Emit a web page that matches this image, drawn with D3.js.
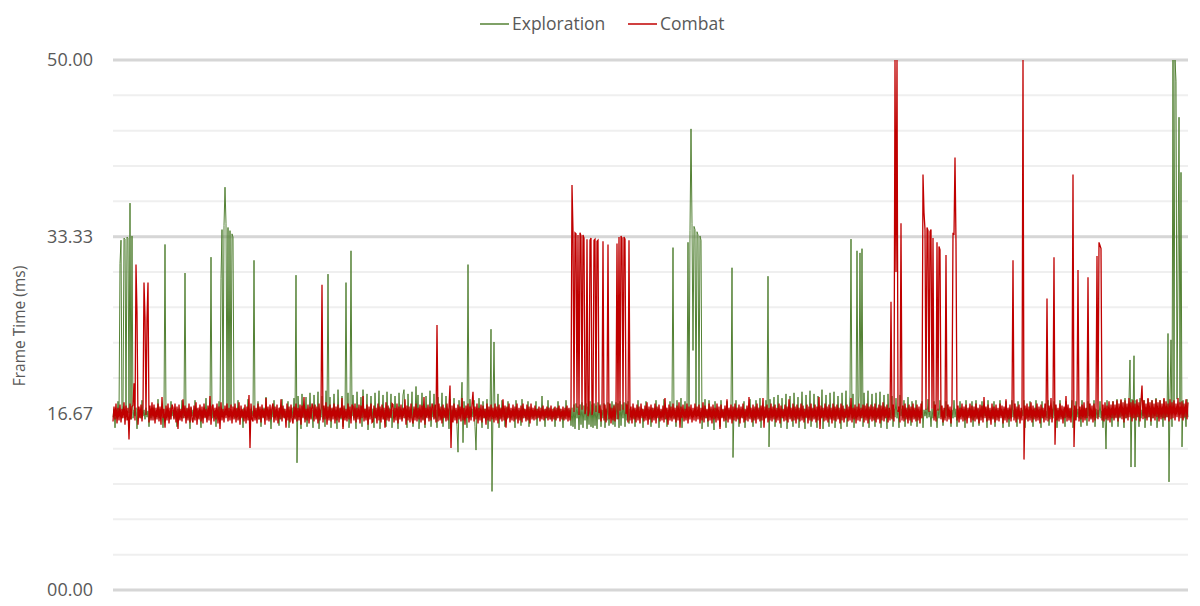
<!DOCTYPE html>
<html><head><meta charset="utf-8">
<script src="https://cdn.jsdelivr.net/npm/d3@7"></script>
<style>
html,body{margin:0;padding:0;background:#fff;}
svg{display:block;font-family:"Open Sans",sans-serif;}
</style></head>
<body>
<svg id="chart" width="1200" height="606"></svg>
<script>
const seriesNames = ["Exploration", "Combat"];
const seriesColors = ["#548235", "#c00000"];
const yTickValues = [0, 16.67, 33.33, 50];
const yTickLabels = ["00.00", "16.67", "33.33", "50.00"];
const yAxisTitle = "Frame Time (ms)";

const exploration = [
16.3,17.1,15.3,17.0,16.2,17.8,16.4,30.8,33.0,16.2,17.4,33.2,33.1,16.4,33.3,33.2,16.7,36.5,16.1,33.4,
16.2,17.0,16.4,17.2,15.2,17.1,16.3,16.9,16.2,17.9,16.4,17.0,16.1,17.2,16.3,16.9,15.4,17.1,16.2,17.0,
16.4,17.2,16.1,16.9,16.3,18.0,16.2,17.1,16.4,16.9,15.3,17.0,32.6,16.2,17.1,16.3,16.9,16.1,17.8,16.4,
17.0,16.2,17.2,16.3,15.4,17.1,16.1,16.9,16.4,17.9,16.2,17.0,29.9,16.3,17.1,16.2,16.9,15.2,17.2,16.4,
17.0,16.1,17.9,16.3,17.1,16.2,16.9,16.4,15.3,17.0,16.2,17.2,16.3,18.1,16.1,17.0,16.4,16.9,31.4,16.2,
17.1,16.3,16.9,15.4,17.0,16.2,17.8,16.4,29.4,34.0,16.5,34.4,38.0,34.6,17.0,34.2,16.8,33.9,17.2,33.6,
33.3,16.6,16.2,17.1,16.4,17.9,16.1,16.9,16.3,17.0,15.3,17.2,16.2,16.9,16.4,18.0,16.3,17.1,16.2,16.9,
16.4,31.1,16.2,17.0,16.3,17.8,16.1,17.1,15.4,16.9,16.3,17.2,16.2,18.2,16.4,17.0,16.1,16.9,15.2,17.1,
16.3,17.9,16.2,17.0,16.4,16.9,15.5,17.2,16.1,18.0,16.3,17.1,16.2,16.9,16.4,17.8,15.3,17.0,16.2,17.2,
16.3,18.1,16.2,29.7,12.0,18.3,16.4,17.1,15.2,18.5,16.3,17.0,16.1,18.2,15.4,17.1,16.3,18.6,16.2,17.0,
15.3,18.4,16.4,17.1,16.2,18.7,15.2,17.0,16.3,18.3,16.1,17.2,15.4,18.8,16.3,29.8,16.2,18.2,15.3,17.1,
16.4,18.5,16.2,17.0,15.2,18.9,16.3,17.1,16.1,18.3,15.4,17.2,16.3,29.0,16.2,18.6,15.3,17.0,32.0,16.4,
18.4,16.2,17.1,15.2,18.7,16.3,17.0,16.1,18.2,15.4,18.9,16.3,17.1,16.2,18.5,15.1,17.0,16.4,18.3,16.2,
17.1,15.3,18.6,16.2,17.0,16.4,18.8,15.2,17.1,16.3,18.4,16.1,17.0,15.4,18.7,16.2,17.2,16.3,18.5,15.3,
17.0,16.2,18.3,16.4,17.1,15.2,18.6,16.3,17.0,16.1,18.4,18.9,16.2,17.1,15.3,18.5,16.4,17.0,16.2,18.7,
15.4,17.1,16.3,19.2,16.2,18.4,15.2,17.0,16.3,18.6,16.1,17.1,15.3,18.3,16.4,17.0,16.2,18.8,15.4,17.1,
16.3,18.5,16.2,17.0,15.3,18.2,16.4,17.1,16.1,18.6,15.4,17.0,16.3,18.3,16.2,17.1,15.2,18.0,16.4,17.0,
16.2,18.1,16.3,17.0,15.4,13.0,17.9,16.2,17.1,19.6,13.9,17.8,16.3,17.0,15.3,30.7,16.2,18.0,16.4,17.1,
16.3,17.9,15.4,13.2,17.1,16.2,18.1,16.4,17.0,15.3,17.8,16.2,17.1,16.3,18.0,15.2,17.0,16.4,24.6,9.3,
17.1,23.4,16.2,17.0,16.4,18.5,15.3,17.1,16.2,17.9,16.3,17.0,15.4,17.2,16.1,17.8,16.3,17.0,16.2,16.9,
16.4,17.1,15.3,17.9,16.2,17.0,16.3,16.9,15.5,18.0,16.2,17.1,16.4,17.0,16.1,17.8,15.4,17.1,16.3,16.9,
16.2,17.0,16.4,17.8,15.5,17.1,16.3,16.9,16.2,18.3,16.4,17.0,15.4,17.1,16.2,17.9,16.3,17.0,16.1,16.9,
16.3,17.2,15.4,17.0,16.2,17.8,16.4,17.1,16.3,16.9,15.3,17.0,16.2,17.9,16.4,17.1,16.3,17.0,15.5,17.2,
15.4,17.5,15.2,17.6,16.2,17.3,15.1,17.5,15.6,17.7,15.3,17.4,16.0,17.6,15.2,17.3,15.6,17.8,15.4,17.5,
15.3,17.6,15.5,17.4,15.2,17.7,16.1,17.5,15.4,17.0,16.2,17.6,15.3,17.1,16.0,17.7,15.5,17.2,16.2,17.8,
15.6,17.5,15.4,17.7,16.1,17.6,15.3,17.8,15.5,17.5,16.2,17.7,15.4,17.6,16.0,17.8,15.7,17.1,16.3,17.0,
16.2,17.1,15.4,17.0,16.3,17.9,16.2,16.9,16.4,17.1,15.3,17.0,16.2,17.8,16.4,17.1,16.1,16.9,15.4,17.2,
16.3,17.0,16.2,17.9,16.4,17.1,15.3,16.9,16.2,17.0,16.3,18.0,16.1,17.1,15.4,17.0,16.3,17.8,16.2,17.1,
32.3,16.2,17.0,15.4,17.9,16.3,17.1,16.2,18.1,15.3,17.0,16.4,17.8,16.2,17.1,32.8,16.5,33.9,43.5,34.6,
22.6,34.3,34.0,17.0,33.8,33.5,16.9,33.4,33.0,15.2,17.1,16.3,18.0,16.2,17.0,15.4,17.9,16.3,17.1,16.2,
17.0,15.1,17.8,16.3,17.1,16.2,16.9,15.4,17.9,16.3,17.0,16.2,17.1,15.3,17.8,16.4,17.0,16.2,17.1,30.4,
12.5,17.1,16.3,17.9,16.2,17.0,15.4,17.1,16.3,16.9,16.2,17.8,15.3,17.0,16.4,17.1,16.2,18.0,16.3,17.0,
15.4,17.1,16.2,17.9,16.3,17.0,16.2,18.1,15.3,17.1,16.4,17.0,16.2,17.9,16.3,29.6,13.5,18.0,16.2,17.1,
16.3,18.2,15.4,17.0,16.2,18.4,16.3,17.1,15.3,18.1,16.2,17.0,16.4,18.5,15.2,17.1,16.3,18.3,16.2,17.0,
15.4,18.6,16.3,17.1,16.2,18.2,15.3,17.0,16.4,18.7,16.2,17.1,15.2,18.4,16.3,17.0,16.2,18.8,15.4,17.1,
16.3,18.5,16.2,17.0,15.3,18.3,16.4,17.1,16.2,18.9,15.2,17.0,16.3,18.4,16.2,17.1,15.4,18.6,16.3,17.0,
16.2,18.7,15.3,17.1,16.4,18.3,16.2,17.0,15.2,18.6,16.3,17.1,16.2,18.8,15.4,17.0,16.3,18.4,33.1,16.2,
18.5,15.3,17.1,16.2,32.0,16.4,18.3,31.8,16.2,32.2,15.4,18.6,16.3,17.0,16.2,18.8,15.3,17.1,16.4,18.5,
16.2,17.0,15.4,18.6,16.3,17.1,16.2,18.7,15.3,17.0,16.4,18.4,16.2,17.1,15.2,18.5,16.3,17.0,16.2,18.3,
15.4,17.1,16.3,18.1,16.2,17.0,15.3,18.4,16.4,17.1,16.2,17.9,15.4,17.0,16.3,18.2,16.2,17.1,15.5,17.8,
16.3,17.0,16.2,17.9,15.4,17.1,16.3,16.9,16.2,17.8,15.3,17.0,16.4,17.1,16.2,18.0,16.3,16.9,15.4,17.1,
16.2,17.8,16.4,17.0,15.3,17.1,16.2,17.9,16.3,16.9,15.5,17.0,16.2,17.8,16.4,17.1,16.3,16.9,15.4,17.0,
16.2,17.9,16.3,17.1,15.4,17.0,16.2,17.8,16.4,16.9,16.3,17.1,15.3,17.9,16.2,17.0,16.4,17.1,16.2,17.8,
15.4,17.0,16.3,17.9,16.2,17.1,15.5,16.9,16.3,17.8,16.2,17.0,16.4,17.1,15.3,17.9,16.2,17.0,16.3,16.9,
16.2,17.8,15.4,17.1,16.3,17.0,16.2,17.9,16.4,16.9,15.3,17.1,16.2,17.8,16.3,17.0,15.4,17.1,16.2,17.9,
16.3,17.0,16.2,17.1,15.4,17.8,16.3,16.9,16.2,17.0,16.4,17.9,15.3,17.1,16.2,17.0,16.3,17.8,16.2,16.9,
15.4,17.1,16.3,17.9,16.2,17.0,16.4,17.1,15.3,17.8,16.2,17.0,16.3,16.9,16.2,17.9,15.5,17.1,16.3,17.0,
16.2,17.8,16.4,17.1,15.3,17.0,16.2,17.9,16.3,16.9,16.2,17.1,15.4,17.8,16.3,17.0,16.2,17.1,16.4,17.9,
15.3,17.0,16.2,17.8,16.3,17.1,16.2,16.9,15.4,17.9,16.3,17.0,16.2,17.1,15.5,17.8,16.4,17.0,16.2,16.9,
16.3,17.9,15.4,17.1,16.2,17.0,16.3,17.8,16.2,16.9,15.3,17.1,16.4,13.3,17.9,16.2,17.0,16.3,17.1,15.4,
17.8,16.2,17.0,16.3,18.0,15.4,17.1,16.2,17.9,16.4,17.0,15.3,18.1,16.2,17.1,16.3,17.9,21.7,11.6,18.0,
16.2,22.1,11.6,17.9,16.3,17.1,15.4,18.1,16.2,17.0,16.4,17.9,15.3,17.1,16.2,18.0,16.3,17.1,15.5,17.9,
16.2,17.1,16.4,18.1,15.3,17.0,16.2,17.9,16.3,17.1,15.4,18.0,16.2,17.1,16.3,24.2,10.2,17.9,23.6,15.4,
50,17.0,50,48.0,18.0,30.0,44.6,17.5,39.4,13.5,17.9,16.2,17.1,15.4,18.0,16.3
];

const combat = [
15.9,17.3,16.1,17.6,15.7,17.2,16.0,17.5,15.8,17.1,16.2,17.7,15.6,17.4,16.0,17.2,14.2,17.6,16.1,17.3,
17.4,19.5,16.0,30.7,26.1,15.6,17.3,16.2,17.5,15.9,17.2,29.0,25.7,16.5,25.6,29.0,15.8,17.4,16.0,17.7,
16.0,17.5,15.7,17.2,16.1,17.6,15.9,17.3,15.6,18.2,16.2,17.1,15.3,17.4,16.0,17.6,15.7,17.2,16.1,17.5,
17.2,16.1,17.6,15.8,17.3,15.2,17.5,16.0,17.1,15.9,18.0,16.2,17.4,15.7,17.2,16.0,17.6,15.8,17.3,16.1,
15.8,17.4,16.0,17.7,15.6,17.2,16.1,17.5,15.9,17.3,15.7,17.6,16.2,17.1,15.8,17.4,16.0,18.3,15.6,17.3,
17.5,15.9,17.2,16.1,17.6,15.7,17.3,15.2,17.7,16.0,17.1,15.8,17.4,16.2,17.6,15.9,17.2,16.0,17.5,15.7,
17.3,16.1,17.6,15.8,17.2,16.0,17.7,15.6,17.4,16.2,17.1,15.9,17.5,15.7,17.3,16.0,18.4,13.4,17.6,16.1,
15.9,17.4,16.0,17.2,15.7,17.6,16.1,17.3,15.8,17.5,16.2,17.1,15.6,18.1,16.0,17.3,15.9,17.5,16.1,17.2,
17.6,15.8,17.3,16.0,17.5,15.7,17.2,16.1,18.0,15.9,17.4,16.2,17.1,15.3,17.6,16.0,17.3,15.8,17.5,16.1,
15.7,17.3,16.1,17.6,15.9,17.2,16.0,17.5,15.6,17.4,16.2,18.2,15.8,17.1,16.0,17.5,15.7,17.3,16.1,17.6,
17.2,15.9,17.5,16.1,17.3,15.7,17.6,16.0,17.2,28.8,15.8,17.4,16.1,17.7,15.6,17.3,16.0,17.5,15.9,17.2,
16.1,17.6,15.7,17.3,16.0,17.5,15.8,17.2,16.2,18.1,15.2,17.4,16.0,17.1,15.9,17.6,16.1,17.3,15.7,17.5,
17.3,16.0,17.6,15.8,17.2,16.1,17.5,15.7,17.4,16.2,18.3,15.9,17.1,16.0,17.5,15.6,17.3,16.1,17.6,15.8,
15.9,17.4,16.2,17.2,15.7,17.6,16.0,17.3,15.8,17.5,16.1,17.2,15.3,17.7,16.0,17.4,15.9,17.1,16.2,17.6,
17.5,15.8,17.2,16.0,17.6,15.7,17.3,16.1,17.5,15.9,17.2,16.2,18.0,15.6,17.4,16.0,17.3,15.8,17.6,16.1,
15.7,17.3,16.0,17.6,15.9,17.2,16.1,17.5,15.8,17.4,16.0,18.2,15.6,17.2,16.2,17.5,15.9,17.3,16.0,17.6,
17.2,16.1,17.5,15.8,25.0,15.9,17.6,16.0,17.3,15.7,17.5,16.2,17.2,15.9,17.6,16.0,17.3,19.3,13.4,17.4,
15.8,17.6,16.0,17.2,15.7,17.5,16.1,17.3,15.9,18.1,16.0,17.2,15.6,17.4,16.2,17.6,15.8,17.3,16.0,17.5,
18.7,15.9,17.3,16.1,17.6,15.7,17.2,16.0,17.5,15.8,17.4,16.2,17.1,15.6,17.6,16.0,17.3,15.9,17.5,16.1,
17.2,15.8,17.6,16.0,17.3,15.7,17.5,16.1,17.2,15.9,18.0,16.0,17.4,15.3,17.3,16.2,17.6,15.8,17.2,16.0,
17.5,15.9,17.3,16.1,17.6,15.7,17.2,16.0,17.4,15.8,17.6,16.2,17.1,15.9,17.5,16.0,17.3,15.7,17.6,16.1,
17.2,16.0,17.4,16.1,17.1,16.2,17.3,15.9,17.2,16.1,17.4,16.0,17.1,16.2,17.3,16.0,17.2,16.1,17.4,15.9,
17.1,16.1,17.3,16.0,17.2,16.2,17.4,15.9,17.1,16.1,17.3,16.0,17.2,16.1,17.4,15.9,17.2,16.0,17.3,38.2,
33.8,16.8,33.7,33.6,17.2,33.5,16.5,33.7,33.4,17.0,33.5,33.2,16.6,17.1,33.1,16.4,16.9,33.0,33.2,16.5,
17.0,33.0,33.1,16.8,32.9,33.0,16.7,17.4,15.9,17.2,32.9,16.0,17.5,15.8,17.3,32.6,16.1,17.6,15.7,17.2,
16.0,17.4,15.9,17.3,32.7,16.1,33.3,16.9,33.4,33.2,17.0,33.3,33.1,16.6,17.5,15.8,33.0,16.0,17.3,15.7,
17.6,16.1,17.2,15.8,17.5,16.0,17.3,15.7,17.6,16.2,17.1,15.9,17.4,16.0,17.7,15.6,17.3,16.1,17.5,15.8,
17.2,16.0,17.6,15.7,17.3,16.2,17.5,15.9,17.1,16.0,17.4,15.8,18.1,16.1,17.2,15.6,17.5,16.0,17.3,15.9,
17.6,16.1,17.2,15.8,17.4,16.0,17.7,15.3,17.3,16.2,17.5,15.9,17.1,16.0,17.6,15.7,17.3,16.1,17.5,15.8,
17.2,16.0,17.6,15.9,17.3,16.1,17.5,15.7,17.2,16.0,17.7,15.8,17.4,16.2,17.1,15.9,17.6,16.0,17.3,15.7,
17.5,16.1,17.2,15.8,17.6,16.0,17.3,15.2,17.5,16.2,17.1,15.9,17.4,16.0,18.0,15.8,17.2,16.1,17.5,15.7,
17.3,16.0,17.6,15.9,17.2,16.1,17.5,15.7,17.3,16.2,17.6,15.8,17.1,16.0,17.4,15.9,18.2,16.1,17.2,15.8,
17.5,16.0,17.3,15.7,17.6,16.1,17.2,15.9,17.4,16.0,18.1,15.3,17.3,16.2,17.5,15.8,17.2,16.0,17.6,15.9,
17.3,16.1,17.5,15.8,17.2,16.0,17.6,15.7,17.4,16.2,17.1,15.9,17.5,16.0,17.3,15.8,18.0,16.1,17.2,15.9,
17.6,16.0,17.3,15.7,17.5,16.1,17.2,15.9,17.6,16.0,17.4,15.8,17.1,16.2,17.5,15.7,17.3,16.0,17.6,15.9,
17.2,16.1,17.5,15.8,17.3,16.0,18.2,15.2,17.4,16.2,17.2,15.9,17.6,16.0,17.3,15.8,17.5,16.1,17.2,15.7,
17.6,16.0,17.3,15.9,17.5,16.1,17.2,15.7,17.6,16.0,17.4,15.8,17.1,16.2,17.5,15.9,17.3,16.0,18.1,15.8,
17.2,16.1,17.5,15.7,17.3,16.0,17.6,15.9,17.2,16.2,17.5,15.8,17.4,16.0,17.6,15.7,17.3,16.1,17.5,15.9,
17.3,16.0,17.6,15.8,17.2,16.1,17.5,15.7,17.4,16.0,17.7,15.9,17.3,16.2,17.5,15.8,17.2,16.0,27.2,16.1,
17.5,15.9,50,30.0,50,16.8,17.3,15.8,34.6,16.0,17.4,15.9,17.6,16.1,17.2,15.7,17.5,16.0,17.3,15.8,
17.6,16.1,17.2,15.9,17.5,16.0,17.3,15.7,17.6,16.2,39.2,35.6,34.0,17.0,34.2,33.9,16.8,33.8,34.0,17.1,
33.2,16.0,17.5,15.9,32.8,16.9,32.4,32.1,16.1,17.4,15.8,17.2,16.0,31.6,15.9,17.5,16.1,17.3,15.7,17.6,
33.7,33.5,40.8,32.7,16.0,17.4,15.8,17.2,16.1,17.6,15.9,17.3,16.0,17.5,15.7,17.2,16.2,17.6,15.8,17.4,
16.0,17.3,15.9,17.6,16.1,17.2,15.7,17.5,16.0,17.4,15.8,18.2,16.2,17.3,15.9,17.5,16.0,17.2,15.6,17.6,
16.1,17.3,15.8,17.5,16.0,17.2,15.9,17.6,16.2,17.4,15.7,17.3,16.0,18.0,15.8,17.2,16.1,17.5,15.9,17.3,
31.1,16.0,17.6,15.8,17.3,16.1,17.5,15.7,17.2,16.0,50,12.3,17.4,16.1,17.6,15.9,17.3,16.0,17.7,15.8,
17.4,16.1,17.2,15.9,17.6,16.0,17.3,15.7,17.5,16.2,17.2,15.8,17.6,16.0,27.5,15.9,17.4,16.1,18.1,15.8,
17.3,31.4,13.7,17.5,16.0,17.2,15.9,17.6,16.1,17.4,15.7,17.3,16.2,18.3,15.9,17.5,16.0,17.2,15.8,17.6,
39.2,13.5,17.4,16.0,17.6,30.2,15.9,17.3,16.1,17.5,15.8,17.7,16.0,17.2,16.2,29.5,15.9,17.6,16.1,17.4,
15.8,17.6,16.0,17.3,31.5,16.1,32.8,32.5,32.2,16.0,17.5,15.9,17.7,16.1,17.4,16.0,17.8,15.8,17.5,16.2,
17.8,16.0,17.5,16.2,17.9,15.9,17.6,16.3,18.0,16.1,17.7,15.8,17.9,16.2,17.6,16.0,18.1,16.3,17.7,15.9,
17.9,16.2,17.6,16.0,18.0,16.3,17.7,15.9,17.8,19.3,16.1,17.9,16.2,17.6,16.0,18.1,16.3,17.7,15.9,17.9,
16.2,17.6,16.0,18.0,16.3,17.7,15.9,17.9,16.1,17.6,16.2,18.1,16.0,17.8,16.3,17.6,15.9,18.0,16.1,17.7,
16.2,17.9,16.0,17.6,16.3,18.1,15.9,17.7,16.2,17.8,16.0,17.6,16.3,18.0,16.1,17.7
];

const series = [exploration, combat];
const strokeWidths = [1, 1.3];

const svg = d3.select("#chart");
const plotLeft = 113, plotRight = 1188, plotTop = 60, plotBottom = 590;

const y = d3.scaleLinear().domain([0, 50]).range([plotBottom, plotTop]);

// minor gridlines (every 1/15 of range) and major gridlines
const minorTicks = d3.range(16).map(k => k * 50 / 15);
svg.append("g").selectAll("line").data(minorTicks).join("line")
  .attr("x1", plotLeft).attr("x2", plotRight)
  .attr("y1", d => y(d)).attr("y2", d => y(d))
  .attr("stroke", "#efefef").attr("stroke-width", 2);
svg.append("g").selectAll("line").data(yTickValues).join("line")
  .attr("x1", plotLeft).attr("x2", plotRight)
  .attr("y1", d => y(d)).attr("y2", d => y(d))
  .attr("stroke", "#d6d6d6").attr("stroke-width", 3);

// y axis labels
const yAxis = d3.axisLeft(y).tickValues(yTickValues)
  .tickFormat((d, i) => yTickLabels[i]).tickSize(0).tickPadding(20);
const ga = svg.append("g").attr("transform", `translate(${plotLeft},0)`).call(yAxis);
ga.select(".domain").remove();
ga.selectAll("text").attr("fill", "#595959").style("font-size", "18px")
  .style("font-family", '"Open Sans",sans-serif');

svg.append("text").attr("transform", `translate(25,${(plotTop + plotBottom) / 2 + 1}) rotate(-90)`)
  .attr("text-anchor", "middle").attr("fill", "#595959").style("font-size", "15.5px")
  .text(yAxisTitle);

// clip
svg.append("clipPath").attr("id", "clip").append("rect")
  .attr("x", plotLeft - 1).attr("y", plotTop - 1).attr("width", plotRight - plotLeft + 2).attr("height", plotBottom - plotTop + 2);

const lg = svg.append("g").attr("clip-path", "url(#clip)");
series.forEach((s, k) => {
  const xs = d3.scaleLinear().domain([0, s.length - 1]).range([plotLeft, plotRight]);
  const line = d3.line().x((d, i) => xs(i)).y(d => y(d));
  lg.append("path").datum(s).attr("d", line)
    .attr("fill", "none").attr("stroke", seriesColors[k]).attr("stroke-width", strokeWidths[k])
    .attr("stroke-linejoin", "miter");
});

if (exploration.length !== combat.length) {
  svg.append("text").attr("x", 900).attr("y", 20).attr("fill", "blue")
    .text(exploration.length + " / " + combat.length);
}

// legend
const legendX = [480, 628];
const leg = svg.append("g");
seriesNames.forEach((n, k) => {
  leg.append("line").attr("x1", legendX[k]).attr("x2", legendX[k] + 29)
    .attr("y1", 24).attr("y2", 24).attr("stroke", seriesColors[k]).attr("stroke-width", 1.5);
  leg.append("text").attr("x", legendX[k] + 32).attr("y", 30)
    .attr("fill", "#595959").style("font-size", "17.5px").text(n);
});
</script>
</body></html>
